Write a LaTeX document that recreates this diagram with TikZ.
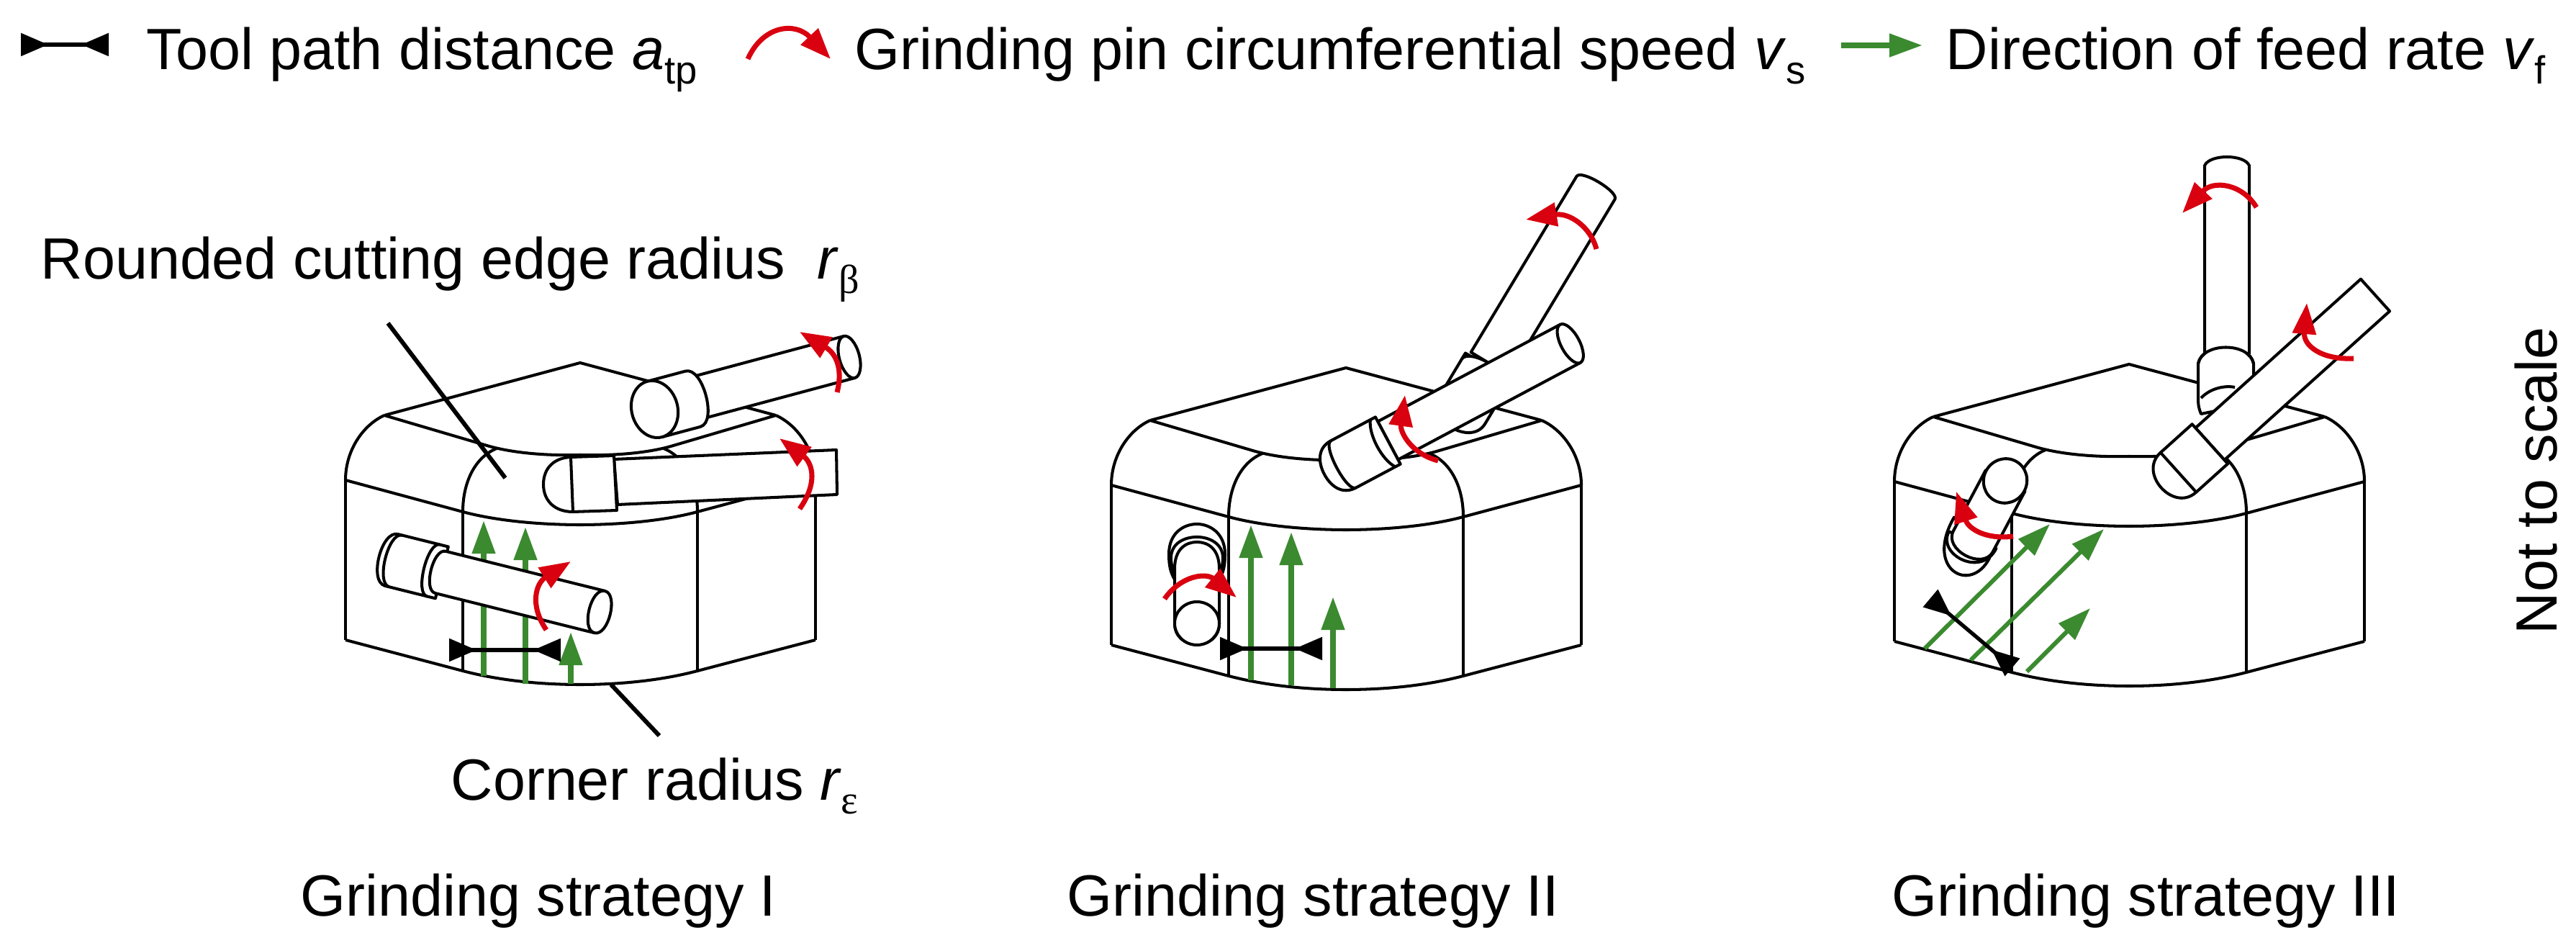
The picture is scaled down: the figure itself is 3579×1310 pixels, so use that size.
\documentclass[tikz,border=0pt]{standalone}
\usepackage{fontspec}
\setmainfont{Liberation Sans}
\newfontfamily\greekfont{Liberation Serif}
\usetikzlibrary{arrows.meta}

\definecolor{feedgreen}{HTML}{3B8A30}
\definecolor{speedred}{HTML}{D9000F}

\newcommand{\subtext}[1]{\raisebox{-.24em}{\fontsize{15.5}{15.5}\selectfont #1}}
\newcommand{\subgreek}[1]{\raisebox{-.24em}{\greekfont\fontsize{16}{16}\selectfont #1}}

\tikzset{
    label/.style={anchor=base west,inner sep=0pt,font=\fontsize{23}{26}\selectfont},
    body/.style={line width=1.15pt,line join=round},
    pinline/.style={line width=1.15pt,line join=round},
    pin/.style={pinline,fill=white},
    leader/.style={line width=1.7pt},
    feed/.style={feedgreen,line width=2.2pt,-{Triangle[length=.46cm,width=.31cm]}},
    speed/.style={speedred,line width=2pt,-{Triangle[length=.43cm,width=.32cm]}},
    pathdist/.style={line width=1.5pt,{Triangle[reversed,length=.38cm,width=.31cm]}-{Triangle[reversed,length=.38cm,width=.31cm]}}
}

\begin{document}
\begin{tikzpicture}[x=0.01cm,y=-0.01cm]
    \useasboundingbox (0,0) rectangle (3579,1310);

    % legend
    \node[label] (atp) at (203,97) {Tool path distance \textit{a}\subtext{tp}};
    \node[label] (vs) at (1187,97) {Grinding pin circumferential speed \textit{v}\subtext{s}};
    \node[label] (vf) at (2703,97) {Direction of feed rate \textit{v}\subtext{f}};
    \draw[pathdist] (29,62) -- (151,62);
    \draw[speed] (1039,82) .. controls (1060,35) and (1105,30) .. (1154,82);
    \draw[feed] (2558,63) -- (2671,63);

    % the three inserts
    \foreach \ox/\oy in {0/0,1064/7,2152/2} {
    \begin{scope}[shift={(\ox,\oy)},body]
        \draw (534,577) -- (806,504) -- (1078,577);
        \draw (480,667) .. controls (480,625) and (505,590) .. (534,577);
        \draw (1133,667) .. controls (1133,625) and (1107,590) .. (1078,577);
        \draw (534,577) -- (680,620) .. controls (720,631) and (770,633) .. (806,632)
            .. controls (843,633) and (893,631) .. (932,620) -- (1078,577);
        \draw (480,667) -- (643,711) .. controls (695,725) and (760,729) .. (806,729)
            .. controls (852,729) and (917,725) .. (969,711) -- (1133,667);
        \draw (643,711) .. controls (643,670) and (660,635) .. (690,623);
        \draw (969,711) .. controls (969,670) and (952,635) .. (922,623);
        \draw (480,667) -- (480,889);
        \draw (643,711) -- (643,932);
        \draw (969,711) -- (969,932);
        \draw (1133,667) -- (1133,889);
        \draw (480,889) -- (643,932) .. controls (700,947) and (760,951) .. (806,951)
            .. controls (852,951) and (912,947) .. (969,932) -- (1133,889);
    \end{scope}
    }

    % strategy I
    \draw[feed] (672,939) -- (672,723);
    \draw[feed] (730,950) -- (730,732);
    \draw[feed] (793,950) -- (793,878);
    % far pin
    \begin{scope}[shift={(1180,496)},rotate=15]
        \draw[pin] (-240,-30) -- (0,-30) -- (0,30) -- (-240,30) -- cycle;
        \draw[pin] (0,0) ellipse [x radius=14,y radius=30];
        \draw[pin] (-280,-40) -- (-225,-40) .. controls (-200,-40) and (-200,40) .. (-225,40) -- (-280,40) -- cycle;
        \draw[pin] (-280,0) ellipse [x radius=32,y radius=40];
    \end{scope}
    % near pin
    \draw[pin] (853,638) -- (1162,625) -- (1163,687) -- (858,701) -- cycle;
    \draw[pin] (793,635) -- (853,633) -- (857,709) -- (796,711)
        .. controls (770,711) and (755,695) .. (755,673) .. controls (755,650) and (770,636) .. (793,635) -- cycle;
    \draw[pinline] (793,635) -- (796,711);
    % pin on the flank
    \begin{scope}[shift={(544,778)},rotate=-14]
        \draw[pin] (0,-37) -- (60,-37) -- (60,37) -- (0,37) .. controls (-24,37) and (-24,-37) .. (0,-37) -- cycle;
        \draw[pinline] (6,-37) .. controls (-14,-37) and (-14,37) .. (6,37);
        \draw[pin] (60,-37) -- (72,-37) -- (72,37) -- (60,37) .. controls (42,37) and (42,-37) .. (60,-37) -- cycle;
        \draw[pin] (70,-30) -- (298,-30) .. controls (318,-30) and (318,30) .. (298,30) -- (70,30)
            .. controls (52,30) and (52,-30) .. (70,-30) -- cycle;
        \draw[pinline] (298,-30) .. controls (278,-30) and (278,30) .. (298,30);
    \end{scope}
    \draw[speed] (1163,545) .. controls (1172,510) and (1160,490) .. (1111,461);
    \draw[speed] (1111,707) .. controls (1140,665) and (1125,640) .. (1083,609);
    \draw[speed] (759,875) .. controls (735,840) and (745,810) .. (793,780);
    \draw[pathdist] (624,903) -- (779,903);

    % strategy II
    \draw[feed] (1738,945) -- (1738,729);
    \draw[feed] (1794,952) -- (1794,739);
    \draw[feed] (1852,956) -- (1852,829);
    % pin on the flank
    \draw[pin] (1632,805) .. controls (1626,795) and (1624,785) .. (1624,770) .. controls (1624,740) and (1645,728) .. (1663,728)
        .. controls (1680,728) and (1702,740) .. (1702,770) .. controls (1702,785) and (1700,795) .. (1694,805);
    \draw[pin] (1632,800) .. controls (1628,790) and (1627,780) .. (1627,775) .. controls (1627,755) and (1645,746) .. (1663,746)
        .. controls (1680,746) and (1699,755) .. (1699,775) .. controls (1699,780) and (1698,790) .. (1694,800);
    \draw[pin] (1632,790) .. controls (1632,762) and (1648,753) .. (1663,753)
        .. controls (1678,753) and (1694,762) .. (1694,790) -- (1694,866)
        .. controls (1694,905) and (1632,905) .. (1632,866) -- cycle;
    \draw[pin] (1663,866) ellipse [x radius=31,y radius=30];
    % back pin
    \begin{scope}[shift={(2217,261)},rotate=59]
        \draw[pin] (-360,-37) -- (-290,-37) -- (-290,37) -- (-360,37) .. controls (-398,37) and (-398,-37) .. (-360,-37) -- cycle;
        \draw[pin] (-300,-37) .. controls (-280,-37) and (-280,37) .. (-300,37);
        \draw[pin] (-285,-31) -- (0,-31) .. controls (12,-31) and (12,31) .. (0,31) -- (-285,31) -- cycle;
    \end{scope}
    % front pin
    \begin{scope}[shift={(1840,659)},rotate=28]
        \draw[pin] (100,-30) -- (387,-30) -- (387,30) -- (100,30) -- cycle;
        \draw[pin] (387,0) ellipse [x radius=13,y radius=30];
        \draw[pin] (30,-37) -- (100,-37) -- (100,37) -- (30,37)
            .. controls (8,37) and (0,18) .. (0,0) .. controls (0,-18) and (8,-37) .. (30,-37) -- cycle;
        \draw[pinline] (30,-37) .. controls (16,-37) and (16,37) .. (30,37);
        \draw[pinline] (92,-37) .. controls (80,-20) and (80,20) .. (92,37);
    \end{scope}
    \draw[speed] (2218,346) .. controls (2210,315) and (2180,295) .. (2120,305);
    \draw[speed] (1998,640) .. controls (1960,630) and (1945,600) .. (1952,549);
    \draw[speed] (1618,832) .. controls (1640,800) and (1675,795) .. (1718,830);
    \draw[pathdist] (1695,901) -- (1837,901);

    % strategy III
    \draw[feed,line width=1.7pt] (2674,901) -- (2848,728);
    \draw[feed,line width=1.7pt] (2738,917) -- (2923,735);
    \draw[feed,line width=1.7pt] (2816,933) -- (2904,845);
    % pin on the flank
    \begin{scope}[shift={(2786,668)},rotate=62]
        \draw[pin] (-78,-39) .. controls (-162,-42) and (-162,32) .. (-105,31) -- cycle;
        \draw[pin] (-99,-36) .. controls (-135,-36) and (-135,34) .. (-89,33) -- cycle;
        \draw[pin] (0,-31) -- (-95,-31) .. controls (-125,-31) and (-125,31) .. (-95,31) -- (0,31) -- cycle;
        \draw[pin] (0,0) ellipse [x radius=31,y radius=30];
    \end{scope}
    % upright pin
    \draw[pin] (3054,505) .. controls (3060,475) and (3125,475) .. (3131,505) -- (3131,560) -- (3058,575)
        .. controls (3054,565) and (3054,560) .. (3054,553) -- cycle;
    \draw[pinline] (3058,553) .. controls (3070,540) and (3090,535) .. (3105,538);
    \draw[pin] (3063,492) -- (3063,230) .. controls (3070,214) and (3118,214) .. (3125,230) -- (3125,492);
    \draw[pinline] (3054,505) .. controls (3060,475) and (3125,475) .. (3131,505);
    % slanted pin
    \begin{scope}[shift={(3300,410)},rotate=42]
        \draw[pin] (-309,-30) -- (0,-30) -- (0,30) -- (-309,30) -- cycle;
        \draw[pin] (-309,-37) -- (-309,37) -- (-368,37) .. controls (-390,37) and (-400,18) .. (-400,0)
            .. controls (-400,-18) and (-390,-37) .. (-368,-37) -- cycle;
        \draw[pinline] (-368,-37) -- (-368,37);
    \end{scope}
    \draw[speed] (3135,288) .. controls (3115,255) and (3075,250) .. (3032,296);
    \draw[speed] (3270,498) .. controls (3225,500) and (3200,480) .. (3205,421);
    \draw[speed] (2797,745) .. controls (2760,750) and (2735,735) .. (2718,683);
    \draw[pathdist] (2682,831) -- (2796,927);

    % leaders
    \coordinate (edgefree) at (539,449);
    \coordinate (edgepoint) at (702,664);
    \coordinate (cornerpoint) at (849,951);
    \coordinate (cornerfree) at (916,1022);
    \draw[leader] (edgefree) -- (edgepoint);
    \draw[leader] (cornerpoint) -- (cornerfree);

    % labels
    \node[label] (rbeta) at (56,388) {Rounded cutting edge radius\ \ \textit{r}\subgreek{β}};
    \node[label] (repsilon) at (626,1111) {Corner radius \textit{r}\subgreek{ε}};
    \node[label] (stratI) at (417,1272) {Grinding strategy I};
    \node[label] (stratII) at (1482,1272) {Grinding strategy II};
    \node[label] (stratIII) at (2628,1272) {Grinding strategy III};
    \node[label,rotate=90] (noscale) at (3552,882) {Not to scale};
\end{tikzpicture}
\end{document}
